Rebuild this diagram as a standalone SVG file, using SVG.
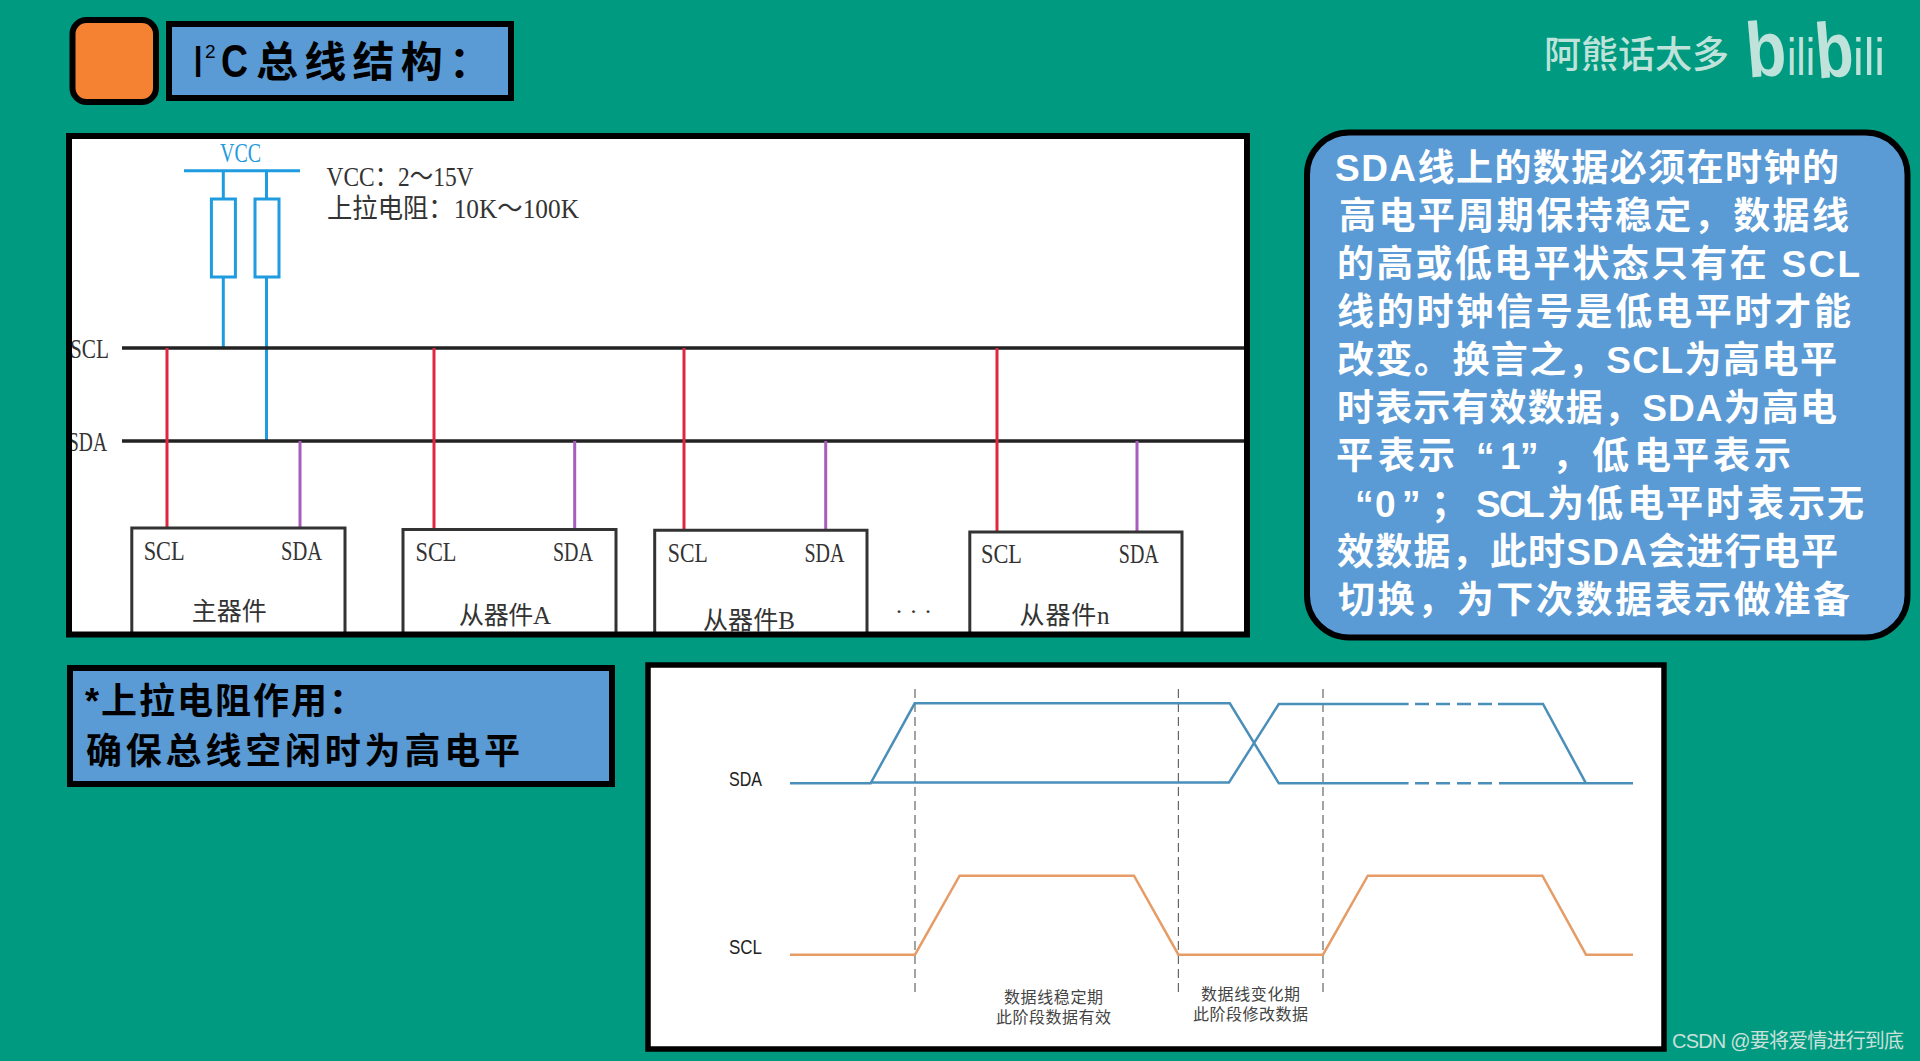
<svg xmlns="http://www.w3.org/2000/svg" width="1920" height="1061" viewBox="0 0 1920 1061">
<style>
.frame{stroke:#000;stroke-width:6;fill:none}
.blue{fill:#5a9ad5;stroke:#000;stroke-width:6}
.white{fill:#fff}
.head{font-family:"Liberation Sans","Noto Sans CJK SC",sans-serif;font-weight:700;fill:#000}
.body{font-family:"Liberation Sans","Noto Sans CJK SC",sans-serif;font-weight:700;fill:#fff;font-size:37px}
.ser{font-family:"Liberation Serif","Noto Sans CJK SC",serif;fill:#333}
.lab{font-size:27px}
.box{fill:#fff;stroke:#333;stroke-width:3}
.bus{stroke:#222;stroke-width:3.5;fill:none}
.pull{stroke:#1f9be0;stroke-width:3;fill:none}
.scl{stroke:#e0263f;stroke-width:3;fill:none}
.sda{stroke:#a85cbd;stroke-width:3;fill:none}
.t-sda{stroke:#4a8fba;stroke-width:2.5;fill:none}
.t-scl{stroke:#e59c66;stroke-width:2.5;fill:none}
.guide{stroke:#666;stroke-width:1.2;stroke-dasharray:9 5;fill:none}
.cap{font-family:"Liberation Sans","Noto Sans CJK SC",sans-serif;font-size:16px;fill:#444}
.mark{font-family:"Liberation Sans","Noto Sans CJK SC",sans-serif;fill:#bfe3da}
</style>
<rect id="background" width="1920" height="1061" fill="#009a80"/>

<g id="marker-square"><rect x="72.5" y="20" width="83.5" height="82" rx="14" fill="#f58233" stroke="#000" stroke-width="6"/></g>

<g id="title">
<rect class="blue" x="169" y="24" width="342" height="74"/>
<text class="head" x="192" y="77" font-size="44" style="font-weight:400">I</text>
<text class="head" x="205" y="58" font-size="19" style="font-weight:400">2</text>
<text class="head" x="221" y="77" font-size="47" textLength="27" lengthAdjust="spacingAndGlyphs">C</text>
<text class="head" x="256" y="77" font-size="42" textLength="235">总线结构：</text>
</g>

<g id="bus-panel-bg"><rect class="white" x="69" y="136" width="1178" height="498"/></g>

<g id="connectors">
<path class="pull" d="M184 170.7H300M223.3 170.7V199M266.5 170.7V199M223.3 277V348M266.5 277V441"/>
<path class="bus" d="M122 348H1244M122 441H1244"/>
<path class="scl" d="M167 348V528M434 348V529M684 348V530M997 348V532"/>
<path class="sda" d="M300 441V528M574.7 441V529M825.7 441V530M1137 441V532"/>
</g>

<g id="vcc">
<text x="220" y="162" font-size="28" textLength="41" lengthAdjust="spacingAndGlyphs" style="font-family:'Liberation Serif',serif;fill:#1f9be0">VCC</text>
<rect x="211.4" y="199" width="24" height="78" fill="#fff" stroke="#1f9be0" stroke-width="3"/>
<rect x="255" y="199" width="24" height="78" fill="#fff" stroke="#1f9be0" stroke-width="3"/>
</g>

<g id="spec-text">
<text class="ser" x="326.5" y="186" font-size="27" textLength="147" lengthAdjust="spacingAndGlyphs">VCC：2～15V</text>
<text class="ser" x="327" y="218" font-size="27" textLength="252" lengthAdjust="spacingAndGlyphs">上拉电阻：10K～100K</text>
</g>

<g id="bus-labels">
<text class="ser lab" x="70" y="358" textLength="39" lengthAdjust="spacingAndGlyphs">SCL</text>
<text class="ser lab" x="68" y="451" textLength="39" lengthAdjust="spacingAndGlyphs">SDA</text>
</g>

<g id="master">
<path class="box" d="M131.8 634V528H345V634"/>
<text class="ser lab" x="143.7" y="560" textLength="41" lengthAdjust="spacingAndGlyphs">SCL</text>
<text class="ser lab" x="281" y="560" textLength="41" lengthAdjust="spacingAndGlyphs">SDA</text>
<text class="ser" x="191.8" y="620" font-size="25" textLength="75">主器件</text>
</g>
<g id="slave-a">
<path class="box" d="M403 634V529.5H616V634"/>
<text class="ser lab" x="415.5" y="560.7" textLength="41" lengthAdjust="spacingAndGlyphs">SCL</text>
<text class="ser lab" x="553" y="560.7" textLength="40" lengthAdjust="spacingAndGlyphs">SDA</text>
<text class="ser" x="459" y="624" font-size="25" textLength="92">从器件A</text>
</g>
<g id="slave-b">
<path class="box" d="M654.7 634V530.3H867V634"/>
<text class="ser lab" x="667.8" y="561.7" textLength="40" lengthAdjust="spacingAndGlyphs">SCL</text>
<text class="ser lab" x="804.5" y="561.7" textLength="40" lengthAdjust="spacingAndGlyphs">SDA</text>
<text class="ser" x="703" y="629" font-size="25" textLength="92">从器件B</text>
</g>
<text id="ellipsis" class="ser" x="896" y="613" font-size="24" textLength="35">...</text>
<g id="slave-n">
<path class="box" d="M969.8 634V532H1182V634"/>
<text class="ser lab" x="981" y="562.7" textLength="41" lengthAdjust="spacingAndGlyphs">SCL</text>
<text class="ser lab" x="1118.8" y="562.7" textLength="40" lengthAdjust="spacingAndGlyphs">SDA</text>
<text class="ser" x="1019.6" y="624" font-size="25" textLength="90">从器件n</text>
</g>
<g id="bus-panel-frame"><rect class="frame" x="69" y="136" width="1178" height="498.5"/></g>

<g id="pullup-note">
<rect class="blue" x="70" y="668" width="542" height="116"/>
<text class="head" x="85" y="714" font-size="36" textLength="280">*上拉电阻作用：</text>
<text class="head" x="86" y="764" font-size="36" textLength="434">确保总线空闲时为高电平</text>
</g>

<g id="sda-note">
<rect class="blue" x="1307" y="132.5" width="600.5" height="505" rx="42"/>
<text class="body" x="1335" y="181" textLength="504">SDA线上的数据必须在时钟的</text>
<text class="body" x="1339" y="229" textLength="510">高电平周期保持稳定，数据线</text>
<text class="body" x="1337" y="277" textLength="523">的高或低电平状态只有在 SCL</text>
<text class="body" x="1337" y="325" textLength="514">线的时钟信号是低电平时才能</text>
<text class="body" x="1337" y="373" textLength="500">改变。换言之，SCL为高电平</text>
<text class="body" x="1337" y="421" textLength="500">时表示有效数据，SDA为高电</text>
<text class="body" y="469" x="1336 1378 1418 1476 1500 1520 1552 1592 1634 1672 1713 1754">平表示“1”，低电平表示</text>
<text class="body" y="517" x="1355 1375 1402 1431 1476 1499 1522 1547 1586 1627 1666 1706 1747 1788 1827">“0”；SCL为低电平时表示无</text>
<text class="body" x="1337" y="565" textLength="501">效数据，此时SDA会进行电平</text>
<text class="body" x="1338" y="613" textLength="512">切换，为下次数据表示做准备</text>
</g>

<g id="timing-panel">
<rect x="648" y="665" width="1016" height="384" fill="#fff" stroke="#000" stroke-width="5.5"/>
<path class="guide" d="M915 689V992M1178.4 689V992M1323 689V992"/>
<path class="t-sda" d="M790 783.3H870.6L914.7 703.3H1229.8L1278.8 783.3H1408.6M1507 783.3H1586H1633M1586 783.3L1543 704H1498M1408.6 704H1278.8L1229 782.5H870"/>
<path class="t-sda" stroke-dasharray="14 7" d="M1415 704H1498M1415 783.3H1507"/>
<path class="t-scl" d="M790 954.7H915L959.6 875.7H1134L1178.4 954.7H1323L1367.8 875.7H1542.4L1586 954.7H1633"/>
<text x="729" y="786" font-size="21" textLength="33" lengthAdjust="spacingAndGlyphs" style="font-family:'Liberation Sans',sans-serif;fill:#222">SDA</text>
<text x="729" y="954" font-size="21" textLength="33" lengthAdjust="spacingAndGlyphs" style="font-family:'Liberation Sans',sans-serif;fill:#222">SCL</text>
<text class="cap" x="1004" y="1003" textLength="99">数据线稳定期</text>
<text class="cap" x="996" y="1023" textLength="115">此阶段数据有效</text>
<text class="cap" x="1201" y="1000" textLength="99">数据线变化期</text>
<text class="cap" x="1193" y="1020" textLength="115">此阶段修改数据</text>
</g>

<g id="watermark">
<text class="mark" x="1544" y="68" font-size="37" font-weight="500" textLength="185">阿熊话太多</text>
<text class="mark" x="1746" y="76" font-size="78" font-weight="700" textLength="40" lengthAdjust="spacingAndGlyphs" transform="rotate(-5 1766 50)">b</text>
<text class="mark" x="1787" y="75" font-size="52" textLength="28" lengthAdjust="spacingAndGlyphs">ili</text>
<text class="mark" x="1815" y="77" font-size="78" font-weight="700" textLength="38" lengthAdjust="spacingAndGlyphs" transform="rotate(-5 1834 50)">b</text>
<text class="mark" x="1853" y="75" font-size="52" textLength="32" lengthAdjust="spacingAndGlyphs">ili</text>
<text x="1672" y="1048" font-size="20" textLength="232" style="font-family:'Liberation Sans','Noto Sans CJK SC',sans-serif;fill:#c9e0da">CSDN @要将爱情进行到底</text>
</g>
</svg>
